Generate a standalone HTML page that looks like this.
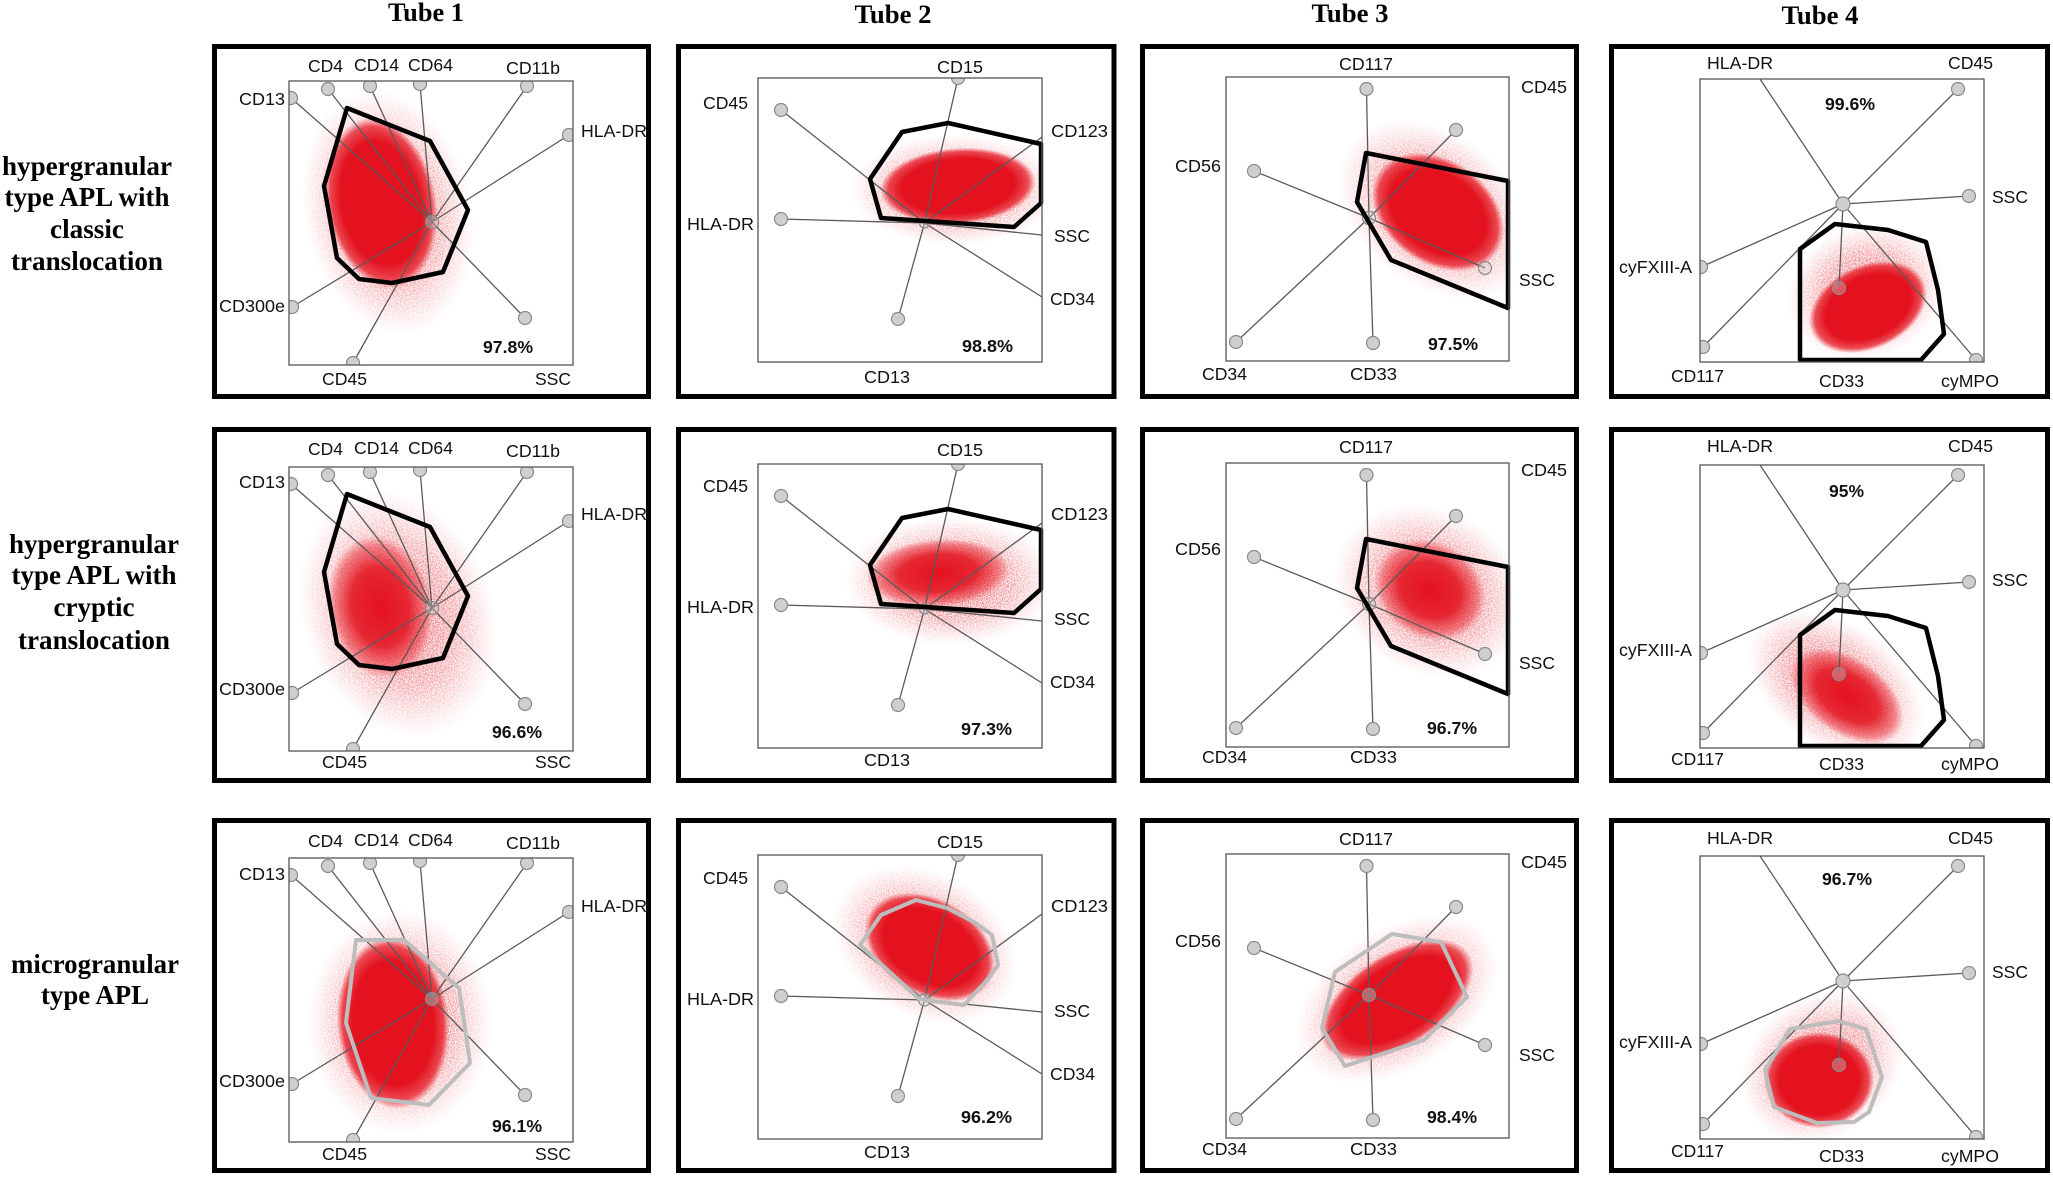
<!DOCTYPE html>
<html><head><meta charset="utf-8"><style>
html,body{margin:0;padding:0;background:#fff;}
svg{display:block;}
.t{font-family:"Liberation Sans",Arial,sans-serif;font-size:17.5px;fill:#111;}
.p{font-family:"Liberation Sans",Arial,sans-serif;font-size:17.5px;font-weight:bold;fill:#111;}
.s{font-family:"Liberation Serif","Times New Roman",serif;font-weight:bold;font-size:27px;fill:#000;}
.ln{stroke:#5a5a5a;stroke-width:1.3;fill:none;}
.nd{fill:#cfcfcf;stroke:#8a8a8a;stroke-width:1.2;}
.no{fill:rgba(210,210,210,0.35);stroke:#8a8a8a;stroke-width:1.2;}
.ir{fill:none;stroke:#555;stroke-width:1.3;}
.gb{fill:none;stroke:#000;stroke-width:4.5;stroke-linejoin:round;}
.gg{fill:none;stroke:#bdbdbd;stroke-width:4;stroke-linejoin:round;}
.bx{fill:none;stroke:#000;stroke-width:5;}
</style></head><body>
<svg width="2053" height="1178" viewBox="0 0 2053 1178" xmlns="http://www.w3.org/2000/svg">
<defs>
<radialGradient id="core"><stop offset="0" stop-color="#e3121e" stop-opacity="1"/><stop offset="0.72" stop-color="#e3121e" stop-opacity="1"/><stop offset="0.9" stop-color="#e51a26" stop-opacity="0.75"/><stop offset="1" stop-color="#e82530" stop-opacity="0"/></radialGradient>
<radialGradient id="core2"><stop offset="0" stop-color="#e3121e" stop-opacity="1"/><stop offset="0.55" stop-color="#e41824" stop-opacity="0.9"/><stop offset="0.85" stop-color="#e8303a" stop-opacity="0.5"/><stop offset="1" stop-color="#ea3a44" stop-opacity="0"/></radialGradient>
<radialGradient id="halo"><stop offset="0" stop-color="#e41a26" stop-opacity="0.85"/><stop offset="0.6" stop-color="#e8303a" stop-opacity="0.5"/><stop offset="1" stop-color="#ec5058" stop-opacity="0"/></radialGradient>
<filter id="spk" x="-20%" y="-20%" width="140%" height="140%">
<feTurbulence type="fractalNoise" baseFrequency="0.85" numOctaves="1" seed="4" result="n"/>
<feColorMatrix in="n" type="matrix" values="0 0 0 0 0  0 0 0 0 0  0 0 0 0 0  3 0 0 0 -1.0" result="m"/>
<feComposite in="SourceGraphic" in2="m" operator="in"/>
</filter>
<clipPath id="c1"><rect x="289" y="81" width="284" height="284"/></clipPath>
<clipPath id="c2"><rect x="758" y="78" width="284" height="284"/></clipPath>
<clipPath id="c3"><rect x="1226" y="77" width="283" height="284"/></clipPath>
<clipPath id="c4"><rect x="1700" y="79" width="284" height="283"/></clipPath>
</defs>

<!-- Titles -->
<text class="s" x="426" y="21" text-anchor="middle" textLength="76" lengthAdjust="spacingAndGlyphs" style="font-size:26px">Tube 1</text>
<text class="s" x="893" y="23" text-anchor="middle" textLength="77" lengthAdjust="spacingAndGlyphs" style="font-size:26px">Tube 2</text>
<text class="s" x="1350" y="22" text-anchor="middle" textLength="77" lengthAdjust="spacingAndGlyphs" style="font-size:26px">Tube 3</text>
<text class="s" x="1820" y="24" text-anchor="middle" textLength="77" lengthAdjust="spacingAndGlyphs" style="font-size:26px">Tube 4</text>

<!-- Row labels -->
<text class="s" x="87" y="175" text-anchor="middle" textLength="170" lengthAdjust="spacingAndGlyphs">hypergranular</text>
<text class="s" x="87" y="206" text-anchor="middle" textLength="165" lengthAdjust="spacingAndGlyphs">type APL with</text>
<text class="s" x="87" y="238" text-anchor="middle" textLength="74" lengthAdjust="spacingAndGlyphs">classic</text>
<text class="s" x="87" y="270" text-anchor="middle" textLength="152" lengthAdjust="spacingAndGlyphs">translocation</text>

<text class="s" x="94" y="553" text-anchor="middle" textLength="170" lengthAdjust="spacingAndGlyphs">hypergranular</text>
<text class="s" x="94" y="584" text-anchor="middle" textLength="165" lengthAdjust="spacingAndGlyphs">type APL with</text>
<text class="s" x="94" y="616" text-anchor="middle" textLength="81" lengthAdjust="spacingAndGlyphs">cryptic</text>
<text class="s" x="94" y="649" text-anchor="middle" textLength="152" lengthAdjust="spacingAndGlyphs">translocation</text>

<text class="s" x="95" y="973" text-anchor="middle" textLength="168" lengthAdjust="spacingAndGlyphs">microgranular</text>
<text class="s" x="95" y="1004" text-anchor="middle" textLength="108" lengthAdjust="spacingAndGlyphs">type APL</text>

<!-- Outer boxes -->
<rect class="bx" x="214.5" y="46.5" width="434" height="350"/>
<rect class="bx" x="678.5" y="46.5" width="435.5" height="350"/>
<rect class="bx" x="1142.5" y="46.5" width="434" height="350"/>
<rect class="bx" x="1611.5" y="46.5" width="436" height="350"/>
<rect class="bx" x="214.5" y="429.5" width="434" height="351"/>
<rect class="bx" x="678.5" y="429.5" width="435.5" height="351"/>
<rect class="bx" x="1142.5" y="429.5" width="434" height="351"/>
<rect class="bx" x="1611.5" y="429.5" width="436" height="351"/>
<rect class="bx" x="214.5" y="820.5" width="434" height="350"/>
<rect class="bx" x="678.5" y="820.5" width="435.5" height="350"/>
<rect class="bx" x="1142.5" y="820.5" width="434" height="350"/>
<rect class="bx" x="1611.5" y="820.5" width="436" height="350"/>

<!-- ================= ROW 1 ================= -->
<g>
<g clip-path="url(#c1)">
<ellipse cx="388" cy="212" rx="84" ry="124" transform="rotate(-12 388 212)" fill="url(#halo)" filter="url(#spk)"/>
<ellipse cx="381" cy="203" rx="55" ry="86" transform="rotate(-11 381 203)" fill="url(#core)"/>
</g>
<g clip-path="url(#c2)">
<ellipse cx="955" cy="190" rx="104" ry="55" fill="url(#halo)" filter="url(#spk)"/>
<ellipse cx="958" cy="186" rx="78" ry="38" transform="rotate(-4 958 186)" fill="url(#core)"/>
</g>
<g clip-path="url(#c3)">
<ellipse cx="1435" cy="210" rx="108" ry="76" transform="rotate(38 1435 210)" fill="url(#halo)" filter="url(#spk)"/>
<ellipse cx="1438" cy="212" rx="72" ry="52" transform="rotate(35 1438 212)" fill="url(#core)"/>
</g>
<g clip-path="url(#c4)">
<ellipse cx="1866" cy="292" rx="80" ry="66" transform="rotate(-20 1866 292)" fill="url(#halo)" filter="url(#spk)"/>
<ellipse cx="1868" cy="307" rx="62" ry="42" transform="rotate(-25 1868 307)" fill="url(#core)"/>
</g>
<path class="ln" d="M328,89L432,222M370,86L432,222M420,84L432,222M527,86L432,222M291,98L432,222M569,135L432,222M292,307L432,222M353,363L432,222M525,318L432,222"/>
<path class="ln" d="M958,78L924.5,223M781,110L924.5,223M781,219L924.5,223M898,319L924.5,223M1042,137L924.5,223M1042,235L924.5,223M1042,297L924.5,223"/>
<path class="ln" d="M1366.5,89L1369,218M1456,130L1369,218M1485,268L1369,218M1373,343L1369,218M1254,171L1369,218M1236,342L1369,218"/>
<path class="ln" d="M1760,79L1843,204M1958,89L1843,204M1969,196L1843,204M1701,267L1843,204M1703,347L1843,204M1839,288L1843,204M1976,360L1843,204"/>
<g clip-path="url(#c1)"><circle class="nd" cx="328" cy="89" r="6.5"/><circle class="nd" cx="370" cy="86" r="6.5"/><circle class="nd" cx="420" cy="84" r="6.5"/><circle class="nd" cx="527" cy="86" r="6.5"/><circle class="nd" cx="291" cy="98" r="6.5"/><circle class="nd" cx="569" cy="135" r="6.5"/><circle class="nd" cx="292" cy="307" r="6.5"/><circle class="nd" cx="353" cy="363" r="6.5"/><circle class="nd" cx="525" cy="318" r="6.5"/><circle class="no" cx="432" cy="222" r="6.5"/></g>
<g clip-path="url(#c2)"><circle class="nd" cx="958" cy="78" r="6.5"/><circle class="nd" cx="781" cy="110" r="6.5"/><circle class="nd" cx="781" cy="219" r="6.5"/><circle class="nd" cx="898" cy="319" r="6.5"/><circle class="no" cx="924.5" cy="223" r="5"/></g>
<g clip-path="url(#c3)"><circle class="nd" cx="1366.5" cy="89" r="6.5"/><circle class="nd" cx="1456" cy="130" r="6.5"/><circle class="no" cx="1485" cy="268" r="6.5"/><circle class="nd" cx="1373" cy="343" r="6.5"/><circle class="nd" cx="1254" cy="171" r="6.5"/><circle class="nd" cx="1236" cy="342" r="6.5"/><circle class="no" cx="1369" cy="218" r="6.5"/></g>
<g clip-path="url(#c4)"><circle class="nd" cx="1958" cy="89" r="6.5"/><circle class="nd" cx="1969" cy="196" r="6.5"/><circle class="nd" cx="1701" cy="267" r="6.5"/><circle class="nd" cx="1703" cy="347" r="6.5"/><circle class="no" cx="1839" cy="288" r="6.5"/><circle class="nd" cx="1976" cy="360" r="6.5"/><circle class="nd" cx="1843" cy="204" r="7"/></g>
<polygon class="gb" points="347,108 430,141 468,210 443,272 392,283 359,279 337,258 324,186"/>
<polygon class="gb" points="948,123 902,132 870,179 881,218 1014,227 1041,203 1041,144"/>
<polygon class="gb" points="1366,153 1508,181 1508,308 1391,260 1357,202"/>
<polygon class="gb" points="1800,249 1835,224 1888,230 1926,242 1938,290 1944,334 1921,360 1800,360"/>
<rect class="ir" x="289" y="81" width="284" height="284"/>
<rect class="ir" x="758" y="78" width="284" height="284"/>
<rect class="ir" x="1226" y="77" width="283" height="284"/>
<rect class="ir" x="1700" y="79" width="284" height="283"/>
<text class="t" x="308" y="72" textLength="35" lengthAdjust="spacingAndGlyphs">CD4</text>
<text class="t" x="354" y="71" textLength="45" lengthAdjust="spacingAndGlyphs">CD14</text>
<text class="t" x="408" y="71" textLength="45" lengthAdjust="spacingAndGlyphs">CD64</text>
<text class="t" x="506" y="74" textLength="54" lengthAdjust="spacingAndGlyphs">CD11b</text>
<text class="t" x="239" y="105" textLength="46" lengthAdjust="spacingAndGlyphs">CD13</text>
<text class="t" x="581" y="137" textLength="66" lengthAdjust="spacingAndGlyphs">HLA-DR</text>
<text class="t" x="219" y="312" textLength="66" lengthAdjust="spacingAndGlyphs">CD300e</text>
<text class="t" x="322" y="385" textLength="45" lengthAdjust="spacingAndGlyphs">CD45</text>
<text class="t" x="535" y="385" textLength="36" lengthAdjust="spacingAndGlyphs">SSC</text>
<text class="p" x="483" y="353" textLength="50" lengthAdjust="spacingAndGlyphs">97.8%</text>

<text class="t" x="937" y="73" textLength="46" lengthAdjust="spacingAndGlyphs">CD15</text>
<text class="t" x="703" y="109" textLength="45" lengthAdjust="spacingAndGlyphs">CD45</text>
<text class="t" x="1051" y="137" textLength="57" lengthAdjust="spacingAndGlyphs">CD123</text>
<text class="t" x="687" y="230" textLength="67" lengthAdjust="spacingAndGlyphs">HLA-DR</text>
<text class="t" x="1054" y="242" textLength="36" lengthAdjust="spacingAndGlyphs">SSC</text>
<text class="t" x="1050" y="305" textLength="45" lengthAdjust="spacingAndGlyphs">CD34</text>
<text class="t" x="864" y="383" textLength="46" lengthAdjust="spacingAndGlyphs">CD13</text>
<text class="p" x="962" y="352" textLength="51" lengthAdjust="spacingAndGlyphs">98.8%</text>

<text class="t" x="1339" y="70" textLength="54" lengthAdjust="spacingAndGlyphs">CD117</text>
<text class="t" x="1521" y="93" textLength="46" lengthAdjust="spacingAndGlyphs">CD45</text>
<text class="t" x="1175" y="172" textLength="46" lengthAdjust="spacingAndGlyphs">CD56</text>
<text class="t" x="1519" y="286" textLength="36" lengthAdjust="spacingAndGlyphs">SSC</text>
<text class="t" x="1202" y="380" textLength="45" lengthAdjust="spacingAndGlyphs">CD34</text>
<text class="t" x="1350" y="380" textLength="47" lengthAdjust="spacingAndGlyphs">CD33</text>
<text class="p" x="1428" y="350" textLength="50" lengthAdjust="spacingAndGlyphs">97.5%</text>

<text class="t" x="1707" y="69" textLength="66" lengthAdjust="spacingAndGlyphs">HLA-DR</text>
<text class="t" x="1948" y="69" textLength="45" lengthAdjust="spacingAndGlyphs">CD45</text>
<text class="p" x="1825" y="110" textLength="50" lengthAdjust="spacingAndGlyphs">99.6%</text>
<text class="t" x="1992" y="203" textLength="36" lengthAdjust="spacingAndGlyphs">SSC</text>
<text class="t" x="1619" y="273" textLength="73" lengthAdjust="spacingAndGlyphs">cyFXIII-A</text>
<text class="t" x="1671" y="382" textLength="53" lengthAdjust="spacingAndGlyphs">CD117</text>
<text class="t" x="1819" y="387" textLength="45" lengthAdjust="spacingAndGlyphs">CD33</text>
<text class="t" x="1941" y="387" textLength="58" lengthAdjust="spacingAndGlyphs">cyMPO</text>
</g>

<!-- ================= ROW 2 ================= -->
<g transform="translate(0,386)">
<g clip-path="url(#c1)">
<ellipse cx="398" cy="228" rx="95" ry="126" transform="rotate(-20 398 228)" fill="url(#halo)" filter="url(#spk)"/>
<ellipse cx="380" cy="221" rx="52" ry="72" transform="rotate(-10 380 221)" fill="url(#core2)"/>
</g>
<g clip-path="url(#c2)">
<ellipse cx="950" cy="195" rx="105" ry="64" fill="url(#halo)" filter="url(#spk)"/>
<ellipse cx="938" cy="187" rx="72" ry="34" transform="rotate(-4 938 187)" fill="url(#core2)"/>
</g>
<g clip-path="url(#c3)">
<ellipse cx="1430" cy="205" rx="100" ry="82" transform="rotate(30 1430 205)" fill="url(#halo)" filter="url(#spk)"/>
<ellipse cx="1430" cy="204" rx="58" ry="48" transform="rotate(30 1430 204)" fill="url(#core2)"/>
</g>
<g clip-path="url(#c4)">
<ellipse cx="1836" cy="300" rx="98" ry="62" transform="rotate(35 1836 300)" fill="url(#halo)" filter="url(#spk)"/>
<ellipse cx="1847" cy="310" rx="64" ry="38" transform="rotate(35 1847 310)" fill="url(#core2)"/>
</g>
<path class="ln" d="M328,89L432,222M370,86L432,222M420,84L432,222M527,86L432,222M291,98L432,222M569,135L432,222M292,307L432,222M353,363L432,222M525,318L432,222"/>
<path class="ln" d="M958,78L924.5,223M781,110L924.5,223M781,219L924.5,223M898,319L924.5,223M1042,137L924.5,223M1042,235L924.5,223M1042,297L924.5,223"/>
<path class="ln" d="M1366.5,89L1369,218M1456,130L1369,218M1485,268L1369,218M1373,343L1369,218M1254,171L1369,218M1236,342L1369,218"/>
<path class="ln" d="M1760,79L1843,204M1958,89L1843,204M1969,196L1843,204M1701,267L1843,204M1703,347L1843,204M1839,288L1843,204M1976,360L1843,204"/>
<g clip-path="url(#c1)"><circle class="nd" cx="328" cy="89" r="6.5"/><circle class="nd" cx="370" cy="86" r="6.5"/><circle class="nd" cx="420" cy="84" r="6.5"/><circle class="nd" cx="527" cy="86" r="6.5"/><circle class="nd" cx="291" cy="98" r="6.5"/><circle class="nd" cx="569" cy="135" r="6.5"/><circle class="nd" cx="292" cy="307" r="6.5"/><circle class="nd" cx="353" cy="363" r="6.5"/><circle class="nd" cx="525" cy="318" r="6.5"/><circle class="no" cx="432" cy="222" r="6.5"/></g>
<g clip-path="url(#c2)"><circle class="nd" cx="958" cy="78" r="6.5"/><circle class="nd" cx="781" cy="110" r="6.5"/><circle class="nd" cx="781" cy="219" r="6.5"/><circle class="nd" cx="898" cy="319" r="6.5"/><circle class="no" cx="924.5" cy="223" r="5"/></g>
<g clip-path="url(#c3)"><circle class="nd" cx="1366.5" cy="89" r="6.5"/><circle class="nd" cx="1456" cy="130" r="6.5"/><circle class="nd" cx="1485" cy="268" r="6.5"/><circle class="nd" cx="1373" cy="343" r="6.5"/><circle class="nd" cx="1254" cy="171" r="6.5"/><circle class="nd" cx="1236" cy="342" r="6.5"/><circle class="no" cx="1369" cy="218" r="6.5"/></g>
<g clip-path="url(#c4)"><circle class="nd" cx="1958" cy="89" r="6.5"/><circle class="nd" cx="1969" cy="196" r="6.5"/><circle class="nd" cx="1701" cy="267" r="6.5"/><circle class="nd" cx="1703" cy="347" r="6.5"/><circle class="no" cx="1839" cy="288" r="6.5"/><circle class="nd" cx="1976" cy="360" r="6.5"/><circle class="nd" cx="1843" cy="204" r="7"/></g>
<polygon class="gb" points="347,108 430,141 468,210 443,272 392,283 359,279 337,258 324,186"/>
<polygon class="gb" points="948,123 902,132 870,179 881,218 1014,227 1041,203 1041,144"/>
<polygon class="gb" points="1366,153 1508,181 1508,308 1391,260 1357,202"/>
<polygon class="gb" points="1800,249 1835,224 1888,230 1926,242 1938,290 1944,334 1921,360 1800,360"/>
<rect class="ir" x="289" y="81" width="284" height="284"/>
<rect class="ir" x="758" y="78" width="284" height="284"/>
<rect class="ir" x="1226" y="77" width="283" height="284"/>
<rect class="ir" x="1700" y="79" width="284" height="283"/>
<text class="p" x="492" y="352" textLength="50" lengthAdjust="spacingAndGlyphs">96.6%</text>
<text class="p" x="961" y="349" textLength="51" lengthAdjust="spacingAndGlyphs">97.3%</text>
<text class="p" x="1427" y="348" textLength="50" lengthAdjust="spacingAndGlyphs">96.7%</text>
<text class="p" x="1829" y="111" textLength="35" lengthAdjust="spacingAndGlyphs">95%</text>
<g transform="translate(0,-3)">
<text class="t" x="308" y="72" textLength="35" lengthAdjust="spacingAndGlyphs">CD4</text>
<text class="t" x="354" y="71" textLength="45" lengthAdjust="spacingAndGlyphs">CD14</text>
<text class="t" x="408" y="71" textLength="45" lengthAdjust="spacingAndGlyphs">CD64</text>
<text class="t" x="506" y="74" textLength="54" lengthAdjust="spacingAndGlyphs">CD11b</text>
<text class="t" x="239" y="105" textLength="46" lengthAdjust="spacingAndGlyphs">CD13</text>
<text class="t" x="581" y="137" textLength="66" lengthAdjust="spacingAndGlyphs">HLA-DR</text>
<text class="t" x="219" y="312" textLength="66" lengthAdjust="spacingAndGlyphs">CD300e</text>
<text class="t" x="322" y="385" textLength="45" lengthAdjust="spacingAndGlyphs">CD45</text>
<text class="t" x="535" y="385" textLength="36" lengthAdjust="spacingAndGlyphs">SSC</text>
<text class="t" x="937" y="73" textLength="46" lengthAdjust="spacingAndGlyphs">CD15</text>
<text class="t" x="703" y="109" textLength="45" lengthAdjust="spacingAndGlyphs">CD45</text>
<text class="t" x="1051" y="137" textLength="57" lengthAdjust="spacingAndGlyphs">CD123</text>
<text class="t" x="687" y="230" textLength="67" lengthAdjust="spacingAndGlyphs">HLA-DR</text>
<text class="t" x="1054" y="242" textLength="36" lengthAdjust="spacingAndGlyphs">SSC</text>
<text class="t" x="1050" y="305" textLength="45" lengthAdjust="spacingAndGlyphs">CD34</text>
<text class="t" x="864" y="383" textLength="46" lengthAdjust="spacingAndGlyphs">CD13</text>
<text class="t" x="1339" y="70" textLength="54" lengthAdjust="spacingAndGlyphs">CD117</text>
<text class="t" x="1521" y="93" textLength="46" lengthAdjust="spacingAndGlyphs">CD45</text>
<text class="t" x="1175" y="172" textLength="46" lengthAdjust="spacingAndGlyphs">CD56</text>
<text class="t" x="1519" y="286" textLength="36" lengthAdjust="spacingAndGlyphs">SSC</text>
<text class="t" x="1202" y="380" textLength="45" lengthAdjust="spacingAndGlyphs">CD34</text>
<text class="t" x="1350" y="380" textLength="47" lengthAdjust="spacingAndGlyphs">CD33</text>
<text class="t" x="1707" y="69" textLength="66" lengthAdjust="spacingAndGlyphs">HLA-DR</text>
<text class="t" x="1948" y="69" textLength="45" lengthAdjust="spacingAndGlyphs">CD45</text>
<text class="t" x="1992" y="203" textLength="36" lengthAdjust="spacingAndGlyphs">SSC</text>
<text class="t" x="1619" y="273" textLength="73" lengthAdjust="spacingAndGlyphs">cyFXIII-A</text>
<text class="t" x="1671" y="382" textLength="53" lengthAdjust="spacingAndGlyphs">CD117</text>
<text class="t" x="1819" y="387" textLength="45" lengthAdjust="spacingAndGlyphs">CD33</text>
<text class="t" x="1941" y="387" textLength="58" lengthAdjust="spacingAndGlyphs">cyMPO</text>
</g>
</g>

<!-- ================= ROW 3 ================= -->
<g transform="translate(0,777)">
<g clip-path="url(#c1)">
<ellipse cx="400" cy="245" rx="92" ry="112" fill="url(#halo)" filter="url(#spk)"/>
<ellipse cx="393" cy="246" rx="56" ry="86" transform="rotate(-5 393 246)" fill="url(#core)"/>
</g>
<g clip-path="url(#c2)">
<ellipse cx="925" cy="168" rx="98" ry="72" transform="rotate(30 925 168)" fill="url(#halo)" filter="url(#spk)"/>
<ellipse cx="930" cy="170" rx="70" ry="48" transform="rotate(30 930 170)" fill="url(#core)"/>
</g>
<g clip-path="url(#c3)">
<ellipse cx="1397" cy="222" rx="112" ry="70" transform="rotate(-33 1397 222)" fill="url(#halo)" filter="url(#spk)"/>
<ellipse cx="1397" cy="223" rx="86" ry="46" transform="rotate(-33 1397 223)" fill="url(#core)"/>
</g>
<g clip-path="url(#c4)">
<ellipse cx="1822" cy="290" rx="86" ry="70" transform="rotate(-35 1822 290)" fill="url(#halo)" filter="url(#spk)"/>
<ellipse cx="1819" cy="303" rx="55" ry="48" fill="url(#core)"/>
</g>
<path class="ln" d="M328,89L432,222M370,86L432,222M420,84L432,222M527,86L432,222M291,98L432,222M569,135L432,222M292,307L432,222M353,363L432,222M525,318L432,222"/>
<path class="ln" d="M958,78L924.5,223M781,110L924.5,223M781,219L924.5,223M898,319L924.5,223M1042,137L924.5,223M1042,235L924.5,223M1042,297L924.5,223"/>
<path class="ln" d="M1366.5,89L1369,218M1456,130L1369,218M1485,268L1369,218M1373,343L1369,218M1254,171L1369,218M1236,342L1369,218"/>
<path class="ln" d="M1760,79L1843,204M1958,89L1843,204M1969,196L1843,204M1701,267L1843,204M1703,347L1843,204M1839,288L1843,204M1976,360L1843,204"/>
<g clip-path="url(#c1)"><circle class="nd" cx="328" cy="89" r="6.5"/><circle class="nd" cx="370" cy="86" r="6.5"/><circle class="nd" cx="420" cy="84" r="6.5"/><circle class="nd" cx="527" cy="86" r="6.5"/><circle class="nd" cx="291" cy="98" r="6.5"/><circle class="nd" cx="569" cy="135" r="6.5"/><circle class="nd" cx="292" cy="307" r="6.5"/><circle class="nd" cx="353" cy="363" r="6.5"/><circle class="nd" cx="525" cy="318" r="6.5"/><circle class="no" cx="432" cy="222" r="6.5"/></g>
<g clip-path="url(#c2)"><circle class="nd" cx="958" cy="78" r="6.5"/><circle class="nd" cx="781" cy="110" r="6.5"/><circle class="nd" cx="781" cy="219" r="6.5"/><circle class="nd" cx="898" cy="319" r="6.5"/><circle class="no" cx="924.5" cy="223" r="6"/></g>
<g clip-path="url(#c3)"><circle class="nd" cx="1366.5" cy="89" r="6.5"/><circle class="nd" cx="1456" cy="130" r="6.5"/><circle class="nd" cx="1485" cy="268" r="6.5"/><circle class="nd" cx="1373" cy="343" r="6.5"/><circle class="nd" cx="1254" cy="171" r="6.5"/><circle class="nd" cx="1236" cy="342" r="6.5"/><circle class="no" cx="1369" cy="218" r="6.5"/></g>
<g clip-path="url(#c4)"><circle class="nd" cx="1958" cy="89" r="6.5"/><circle class="nd" cx="1969" cy="196" r="6.5"/><circle class="nd" cx="1701" cy="267" r="6.5"/><circle class="nd" cx="1703" cy="347" r="6.5"/><circle class="no" cx="1839" cy="288" r="6.5"/><circle class="nd" cx="1976" cy="360" r="6.5"/><circle class="nd" cx="1843" cy="204" r="7"/></g>
<polygon class="gg" points="356,163 404,163 459,211 470,286 429,328 371,321 346,246"/>
<polygon class="gg" points="860,168 881,138 916,123 947,131 974,145 992,158 998,188 989,201 964,228 925,223 918,221"/>
<polygon class="gg" points="1335,195 1392,157 1441,165 1467,220 1424,263 1345,289 1322,251"/>
<polygon class="gg" points="1790,252 1839,244 1866,252 1882,300 1869,335 1854,345 1817,346 1774,330 1765,293"/>
<rect class="ir" x="289" y="81" width="284" height="284"/>
<rect class="ir" x="758" y="78" width="284" height="284"/>
<rect class="ir" x="1226" y="77" width="283" height="284"/>
<rect class="ir" x="1700" y="79" width="284" height="283"/>
<text class="p" x="492" y="355" textLength="50" lengthAdjust="spacingAndGlyphs">96.1%</text>
<text class="p" x="961" y="346" textLength="51" lengthAdjust="spacingAndGlyphs">96.2%</text>
<text class="p" x="1427" y="346" textLength="50" lengthAdjust="spacingAndGlyphs">98.4%</text>
<text class="p" x="1822" y="108" textLength="50" lengthAdjust="spacingAndGlyphs">96.7%</text>
<g transform="translate(0,-2)">
<text class="t" x="308" y="72" textLength="35" lengthAdjust="spacingAndGlyphs">CD4</text>
<text class="t" x="354" y="71" textLength="45" lengthAdjust="spacingAndGlyphs">CD14</text>
<text class="t" x="408" y="71" textLength="45" lengthAdjust="spacingAndGlyphs">CD64</text>
<text class="t" x="506" y="74" textLength="54" lengthAdjust="spacingAndGlyphs">CD11b</text>
<text class="t" x="239" y="105" textLength="46" lengthAdjust="spacingAndGlyphs">CD13</text>
<text class="t" x="581" y="137" textLength="66" lengthAdjust="spacingAndGlyphs">HLA-DR</text>
<text class="t" x="219" y="312" textLength="66" lengthAdjust="spacingAndGlyphs">CD300e</text>
<text class="t" x="322" y="385" textLength="45" lengthAdjust="spacingAndGlyphs">CD45</text>
<text class="t" x="535" y="385" textLength="36" lengthAdjust="spacingAndGlyphs">SSC</text>
<text class="t" x="937" y="73" textLength="46" lengthAdjust="spacingAndGlyphs">CD15</text>
<text class="t" x="703" y="109" textLength="45" lengthAdjust="spacingAndGlyphs">CD45</text>
<text class="t" x="1051" y="137" textLength="57" lengthAdjust="spacingAndGlyphs">CD123</text>
<text class="t" x="687" y="230" textLength="67" lengthAdjust="spacingAndGlyphs">HLA-DR</text>
<text class="t" x="1054" y="242" textLength="36" lengthAdjust="spacingAndGlyphs">SSC</text>
<text class="t" x="1050" y="305" textLength="45" lengthAdjust="spacingAndGlyphs">CD34</text>
<text class="t" x="864" y="383" textLength="46" lengthAdjust="spacingAndGlyphs">CD13</text>
<text class="t" x="1339" y="70" textLength="54" lengthAdjust="spacingAndGlyphs">CD117</text>
<text class="t" x="1521" y="93" textLength="46" lengthAdjust="spacingAndGlyphs">CD45</text>
<text class="t" x="1175" y="172" textLength="46" lengthAdjust="spacingAndGlyphs">CD56</text>
<text class="t" x="1519" y="286" textLength="36" lengthAdjust="spacingAndGlyphs">SSC</text>
<text class="t" x="1202" y="380" textLength="45" lengthAdjust="spacingAndGlyphs">CD34</text>
<text class="t" x="1350" y="380" textLength="47" lengthAdjust="spacingAndGlyphs">CD33</text>
<text class="t" x="1707" y="69" textLength="66" lengthAdjust="spacingAndGlyphs">HLA-DR</text>
<text class="t" x="1948" y="69" textLength="45" lengthAdjust="spacingAndGlyphs">CD45</text>
<text class="t" x="1992" y="203" textLength="36" lengthAdjust="spacingAndGlyphs">SSC</text>
<text class="t" x="1619" y="273" textLength="73" lengthAdjust="spacingAndGlyphs">cyFXIII-A</text>
<text class="t" x="1671" y="382" textLength="53" lengthAdjust="spacingAndGlyphs">CD117</text>
<text class="t" x="1819" y="387" textLength="45" lengthAdjust="spacingAndGlyphs">CD33</text>
<text class="t" x="1941" y="387" textLength="58" lengthAdjust="spacingAndGlyphs">cyMPO</text>
</g>
</g>
</svg>
</body></html>
